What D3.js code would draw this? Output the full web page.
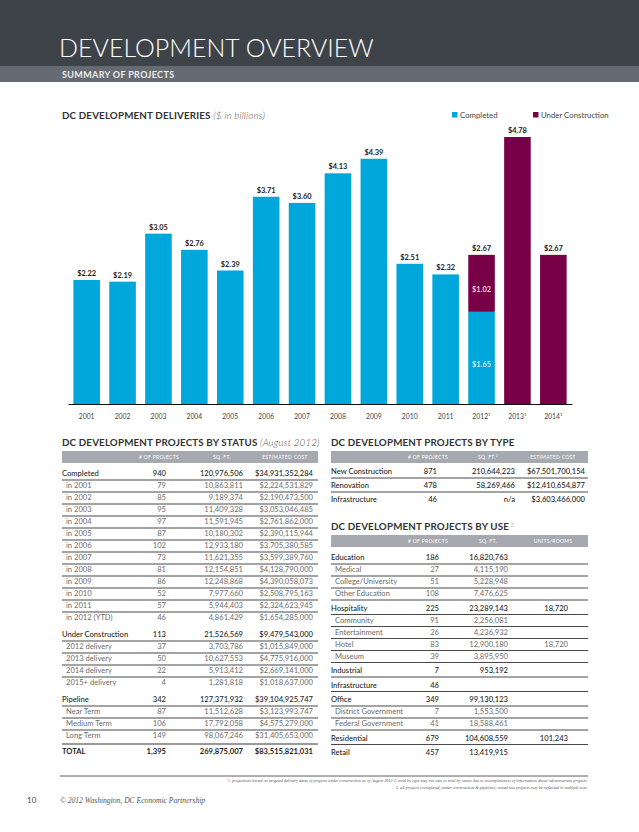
<!DOCTYPE html>
<html>
<head>
<meta charset="utf-8">
<script src="https://cdn.jsdelivr.net/npm/d3@7"></script>
<style>
body { margin: 0; background: #fff; }
svg { display: block; font-family: Lato, "Open Sans", sans-serif; }
</style>
</head>
<body>
<svg id="page" width="639" height="832"></svg>
<script>
// ---- deliveries chart data ($ billions)
const years = ["2001","2002","2003","2004","2005","2006","2007","2008","2009","2010","2011","2012","2013","2014"];
const yearNotes = ["","","","","","","","","","","","1","1","1"];
const completed = [2.22, 2.19, 3.05, 2.76, 2.39, 3.71, 3.60, 4.13, 4.39, 2.51, 2.32, 1.65, 0, 0];
const underConstruction = [0, 0, 0, 0, 0, 0, 0, 0, 0, 0, 0, 1.02, 4.78, 2.67];
const seriesNames = ["Completed", "Under Construction"];

// ---- projects by status
const statusHead = ["# OF PROJECTS", "SQ. FT.", "ESTIMATED COST"];
const statusNames = ["Completed","in 2001","in 2002","in 2003","in 2004","in 2005","in 2006","in 2007","in 2008","in 2009","in 2010","in 2011","in 2012 (YTD)",
  "Under Construction","2012 delivery","2013 delivery","2014 delivery","2015+ delivery",
  "Pipeline","Near Term","Medium Term","Long Term","TOTAL"];
const statusLevel = [0,1,1,1,1,1,1,1,1,1,1,1,1, 0,1,1,1,1, 0,1,1,1, 2];
const statusCount = ["940","79","85","95","97","87","102","73","81","86","52","57","46",
  "113","37","50","22","4","342","87","106","149","1,395"];
const statusSqft = ["120,976,506","10,863,811","9,189,374","11,409,328","11,591,945","10,180,302","12,933,180","11,621,355","12,154,851","12,248,868","7,977,660","5,944,403","4,861,429",
  "21,526,569","3,703,786","10,627,553","5,913,412","1,281,818",
  "127,371,932","11,512,628","17,792,058","98,067,246","269,875,007"];
const statusCost = ["$34,931,352,284","$2,224,531,829","$2,190,473,500","$3,053,046,485","$2,761,862,000","$2,390,115,944","$3,705,380,585","$3,599,389,760","$4,128,790,000","$4,390,058,073","$2,508,795,163","$2,324,623,945","$1,654,285,000",
  "$9,479,543,000","$1,015,849,000","$4,775,916,000","$2,669,141,000","$1,018,637,000",
  "$39,104,925,747","$3,123,993,747","$4,575,279,000","$31,405,653,000","$83,515,821,031"];

// ---- projects by type
const typeHead = ["# OF PROJECTS", "SQ. FT.", "ESTIMATED COST"];
const typeNames = ["New Construction", "Renovation", "Infrastructure"];
const typeCount = ["871", "478", "46"];
const typeSqft = ["210,644,223", "58,269,466", "n/a"];
const typeCost = ["$67,501,700,154", "$12,410,654,877", "$3,603,466,000"];

// ---- projects by use
const useHead = ["# OF PROJECTS", "SQ. FT.", "UNITS/ROOMS"];
const useNames = ["Education","Medical","College/University","Other Education","Hospitality","Community","Entertainment","Hotel","Museum",
  "Industrial","Infrastructure","Office","District Government","Federal Government","Residential","Retail"];
const useLevel = [0,1,1,1,0,1,1,1,1,0,0,0,1,1,0,0];
const useCount = ["186","27","51","108","225","91","26","83","39","7","46","349","7","41","679","457"];
const useSqft = ["16,820,763","4,115,190","5,228,948","7,476,625","23,289,143","2,256,081","4,236,932","12,900,180","3,895,950","953,192","","99,130,123","1,553,500","18,588,461","104,608,559","13,419,915"];
const useUnits = ["","","","","18,720","","","18,720","","","","","","","101,243",""];

const cyan = "#00a7da", maroon = "#780046";
const svg = d3.select("#page");

// ---- page header
svg.append("rect").attr("x", 0).attr("y", 0).attr("width", 639).attr("height", 66).attr("fill", "#3e434a");
svg.append("rect").attr("x", 0).attr("y", 66).attr("width", 639).attr("height", 16).attr("fill", "#666b73");
svg.append("text").attr("x", 59).attr("y", 57)
  .attr("fill", "#fff").attr("font-size", 25).attr("font-weight", 300)
  .text("DEVELOPMENT OVERVIEW");
svg.append("text").attr("x", 62).attr("y", 77.5)
  .attr("fill", "#eceef0").attr("font-size", 9).attr("font-weight", 700).attr("letter-spacing", 0.35)
  .text("SUMMARY OF PROJECTS");

function sectionTitle(x, y, bold, rest, sup) {
  const t = svg.append("text").attr("x", x).attr("y", y).attr("fill", "#333").attr("font-size", 9.8).attr("letter-spacing", 0.15);
  t.append("tspan").attr("font-weight", 700).text(bold);
  if (rest) t.append("tspan").attr("font-style", "italic").attr("font-weight", 300).attr("fill", "#555").text(" " + rest);
  if (sup) t.append("tspan").attr("font-size", 5.5).attr("dy", -3.5).attr("fill", "#777").attr("font-weight", 300).text(" " + sup);
}

// ---- deliveries chart
sectionTitle(62, 119, "DC DEVELOPMENT DELIVERIES", "($ in billions)");

const legend = svg.append("g").attr("font-size", 7.8);
[[452, cyan], [533, maroon]].forEach(([lx, c], i) => {
  legend.append("rect").attr("x", lx).attr("y", 112).attr("width", 5.5).attr("height", 5.5).attr("fill", c);
  legend.append("text").attr("x", lx + 8).attr("y", 118).attr("fill", "#444").text(seriesNames[i]);
});

const rows = years.map((yr, i) => ({ year: yr, completed: completed[i], under: underConstruction[i] }));
const x = d3.scaleBand().domain(years).range([68, 572]).paddingInner(0.26).paddingOuter(0.15);
const y = d3.scaleLinear().domain([0, 4.78]).range([404, 137]);
const stacked = d3.stack().keys(["completed", "under"])(rows);

svg.append("g").selectAll("g").data(stacked).join("g")
  .attr("fill", (d, i) => i === 0 ? cyan : maroon)
  .selectAll("rect").data(d => d.filter(s => s[1] > s[0])).join("rect")
  .attr("x", d => x(d.data.year))
  .attr("width", x.bandwidth())
  .attr("y", d => y(d[1]))
  .attr("height", d => y(d[0]) - y(d[1]));

// totals above bars
svg.append("g").selectAll("text").data(rows).join("text")
  .attr("x", d => x(d.year) + x.bandwidth() / 2)
  .attr("y", d => y(d.completed + d.under) - 4)
  .attr("text-anchor", "middle").attr("font-size", 7.4).attr("font-weight", 700).attr("fill", "#222")
  .text(d => "$" + d3.format(".2f")(d.completed + d.under));

// split labels inside the mixed bar
const mixed = rows.filter(d => d.completed > 0 && d.under > 0);
svg.append("g").selectAll("text").data(mixed.flatMap(d => [
    { year: d.year, lo: d.completed, hi: d.completed + d.under, v: d.under, c: "#f0c8de" },
    { year: d.year, lo: 0, hi: d.completed, v: d.completed, c: "#c9eefa" }]))
  .join("text")
  .attr("x", d => x(d.year) + x.bandwidth() / 2)
  .attr("y", d => (y(d.lo) + y(d.hi)) / 2 + 9)
  .attr("text-anchor", "middle").attr("font-size", 7.4).attr("font-weight", 700).attr("fill", d => d.c)
  .text(d => "$" + d3.format(".2f")(d.v));

const xAxis = svg.append("g").attr("transform", "translate(0,404)")
  .call(d3.axisBottom(x).tickSize(0).tickSizeOuter(0).tickPadding(10));
xAxis.select(".domain").attr("stroke", "#111").attr("stroke-width", 1.2);
xAxis.selectAll("text").attr("font-family", "Lato, sans-serif").attr("font-size", 6.8).attr("fill", "#444")
  .each(function (d, i) {
    if (yearNotes[i]) d3.select(this).append("tspan").attr("font-size", 4.5).attr("dy", -3).text(yearNotes[i]);
  });

// ---- tables
function drawTable(o) {
  const g = svg.append("g");
  g.append("rect").attr("x", o.x0).attr("y", o.headY).attr("width", o.x1 - o.x0).attr("height", 12).attr("fill", "#a6a9af");
  o.head.forEach((h, j) => {
    const t = g.append("text").attr("x", o.headX[j]).attr("y", o.headY + 8.3).attr("text-anchor", "middle")
      .attr("fill", "#fff").attr("font-size", 5).attr("letter-spacing", 0.3).text(h);
    if (o.headSup && o.headSup[j]) t.append("tspan").attr("font-size", 3.5).attr("dy", -2).text(o.headSup[j]);
  });
  let yy = o.first;
  const ys = o.names.map((n, i) => {
    if (i > 0) yy += o.pitch + (o.level[i] === 0 ? o.gap : o.level[i] === 2 ? o.totalGap : 0);
    return yy;
  });
  o.names.forEach((n, i) => {
    const lv = o.level[i];
    const col = lv === 1 ? "#6d6d6d" : "#1f1f1f";
    const fw = lv === 2 ? 700 : lv === 0 ? 500 : 400;
    const row = g.append("g").attr("font-size", 7.6).attr("fill", col).attr("font-weight", fw);
    row.append("text").attr("x", o.x0 + (lv === 1 ? 4 : 0)).attr("y", ys[i]).text(n);
    o.cols.forEach((c, j) => {
      row.append("text").attr("x", o.colX[j]).attr("y", ys[i]).attr("text-anchor", "end").text(c[i]);
    });
    const next = o.level[i + 1];
    if (next === undefined) return;
    if (next === 2) {
      g.append("line").attr("x1", o.x0).attr("x2", o.x1).attr("y1", ys[i] + 6).attr("y2", ys[i] + 6)
        .attr("stroke", "#9a9a9a").attr("stroke-width", 2);
    } else if (next === 1 || o.lineAll) {
      g.append("line").attr("x1", o.x0).attr("x2", o.x1).attr("y1", ys[i] + 4).attr("y2", ys[i] + 4)
        .attr("stroke", "#1a1a1a").attr("stroke-width", 0.8);
    }
  });
}

sectionTitle(62, 446, "DC DEVELOPMENT PROJECTS BY STATUS", "(August 2012)");
drawTable({
  x0: 62, x1: 318, headY: 451, head: statusHead, headX: [159, 222, 285],
  names: statusNames, level: statusLevel, cols: [statusCount, statusSqft, statusCost], colX: [166, 243, 313],
  first: 476, pitch: 12, gap: 5, totalGap: 4, lineAll: false
});

sectionTitle(331, 446, "DC DEVELOPMENT PROJECTS BY TYPE");
drawTable({
  x0: 331, x1: 588, headY: 451, head: typeHead, headSup: ["", "2", ""], headX: [428, 488, 553],
  names: typeNames, level: typeNames.map(() => 0), cols: [typeCount, typeSqft, typeCost], colX: [437, 515, 585],
  first: 474, pitch: 14, gap: 0, totalGap: 0, lineAll: true
});

sectionTitle(331, 530, "DC DEVELOPMENT PROJECTS BY USE", null, "3");
drawTable({
  x0: 331, x1: 588, headY: 535, head: useHead, headX: [428, 488, 553],
  names: useNames, level: useLevel, cols: [useCount, useSqft, useUnits], colX: [439, 508, 568],
  first: 560, pitch: 12, gap: 2.5, totalGap: 0, lineAll: true
});

// ---- footer
svg.append("line").attr("x1", 60).attr("x2", 588).attr("y1", 776).attr("y2", 776).attr("stroke", "#333").attr("stroke-width", 0.8);
const notes = svg.append("g").attr("font-family", "'Liberation Serif', serif").attr("font-style", "italic")
  .attr("font-size", 4.3).attr("fill", "#555").attr("text-anchor", "end");
notes.append("text").attr("x", 587).attr("y", 782)
  .text("1. projections based on targeted delivery dates of projects under construction as of August 2012     2. total by type may not sum to total by status due to incompleteness of information about infrastructure projects");
notes.append("text").attr("x", 587).attr("y", 789)
  .text("3. all projects (completed, under construction & pipeline); mixed-use projects may be reflected in multiple uses");
svg.append("text").attr("x", 27).attr("y", 803).attr("font-size", 8).attr("fill", "#444").text("10");
svg.append("text").attr("x", 60).attr("y", 803).attr("font-family", "'Liberation Serif', serif").attr("font-style", "italic")
  .attr("font-size", 7.6).attr("fill", "#555").text("© 2012 Washington, DC Economic Partnership");
</script>
</body>
</html>
